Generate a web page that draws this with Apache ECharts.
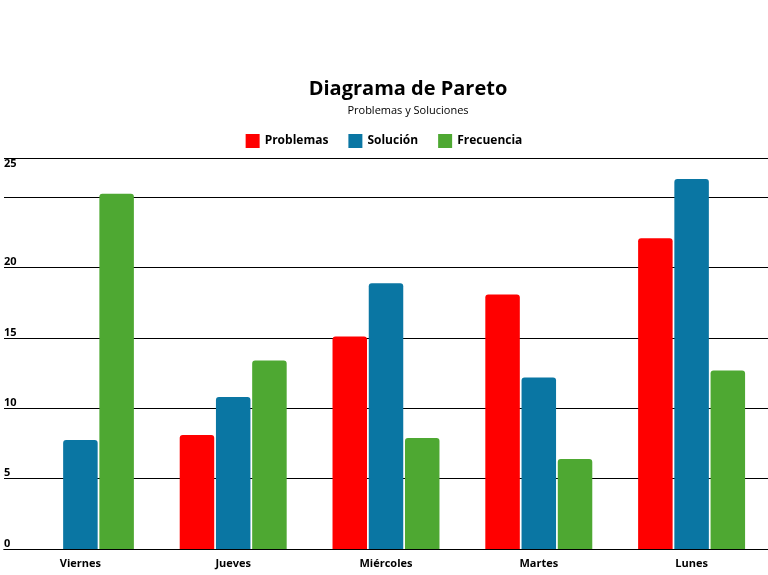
<!DOCTYPE html>
<html>
<head>
    <meta charset="utf-8" />
    <title>Diagrama de Pareto</title>
    <script src="https://cdn.jsdelivr.net/npm/echarts@6/dist/echarts.min.js"></script>
</head>
<body style="margin:0">
    <div id="main" style="width: 768px;height:575px;"></div>
    <script type="text/javascript">
        var dias = ['Viernes', 'Jueves', 'Miércoles', 'Martes', 'Lunes'];
        var problemas = [0, 8.1, 15.1, 18.1, 22.1];
        var solucion = [7.75, 10.8, 18.9, 12.2, 26.3];
        var frecuencia = [25.25, 13.4, 7.9, 6.4, 12.7];
        var ejeMax = 27.8;

        var myChart = echarts.init(document.getElementById('main'));
        var font = '"Open Sans", sans-serif';
        var corner = [3, 3, 0, 0];

        var option = {
            textStyle: { fontFamily: font },
            title: {
                text: 'Diagrama de Pareto',
                subtext: 'Problemas y Soluciones',
                left: 403, textAlign: 'center', top: 74, itemGap: 6,
                textStyle: { fontSize: 20, fontWeight: 'bold', color: '#000', fontFamily: font },
                subtextStyle: { fontSize: 11, color: '#000', fontFamily: font }
            },
            legend: {
                top: 129, left: 'center',
                icon: 'rect', itemWidth: 14, itemHeight: 14, itemGap: 20,
                textStyle: { fontSize: 12, fontWeight: 'bold', color: '#000' },
                data: ['Problemas', 'Solución', 'Frecuencia']
            },
            grid: { left: 4, width: 775, top: 158, bottom: 26 },
            xAxis: [{
                type: 'category', data: dias,
                axisLine: { lineStyle: { color: '#000' } },
                axisTick: { show: false },
                axisLabel: { color: '#000', fontWeight: 'bold', fontSize: 11, margin: 9 }
            }, {
                type: 'category', data: dias, position: 'top',
                axisLine: { lineStyle: { color: '#000' } },
                axisTick: { show: false }, axisLabel: { show: false }
            }],
            yAxis: [{
                type: 'value', min: 0, max: ejeMax, interval: 5,
                axisLine: { show: false }, axisTick: { show: false },
                axisLabel: {
                    inside: true, color: '#000', fontWeight: 'bold', fontSize: 11, margin: 0,
                    verticalAlign: 'bottom',
                    formatter: function (v) { return v >= 25 ? '' : String(v); }
                },
                splitLine: {
                    lineStyle: { color: '#000' },
                    interval: function (i, v) { return v < 25 && v > 0; }
                }
            }, {
                type: 'value', min: 0, max: ejeMax, interval: ejeMax, position: 'left',
                axisLine: { show: false }, axisTick: { show: false }, splitLine: { show: false },
                axisLabel: {
                    inside: true, color: '#000', fontWeight: 'bold', fontSize: 11, margin: 0,
                    verticalAlign: 'top',
                    formatter: function (v) { return v > 0 ? '25' : ''; }
                }
            }],
            series: [
                { name: 'Problemas', type: 'bar', data: problemas, barGap: '5%', barCategoryGap: '30%',
                  itemStyle: { color: '#ff0000', borderRadius: corner } },
                { name: 'Solución', type: 'bar', data: solucion,
                  itemStyle: { color: '#0a76a3', borderRadius: corner } },
                { name: 'Frecuencia', type: 'bar', data: frecuencia,
                  itemStyle: { color: '#4ea832', borderRadius: corner } }
            ]
        };
        myChart.setOption(option);
    </script>
</body>
</html>
